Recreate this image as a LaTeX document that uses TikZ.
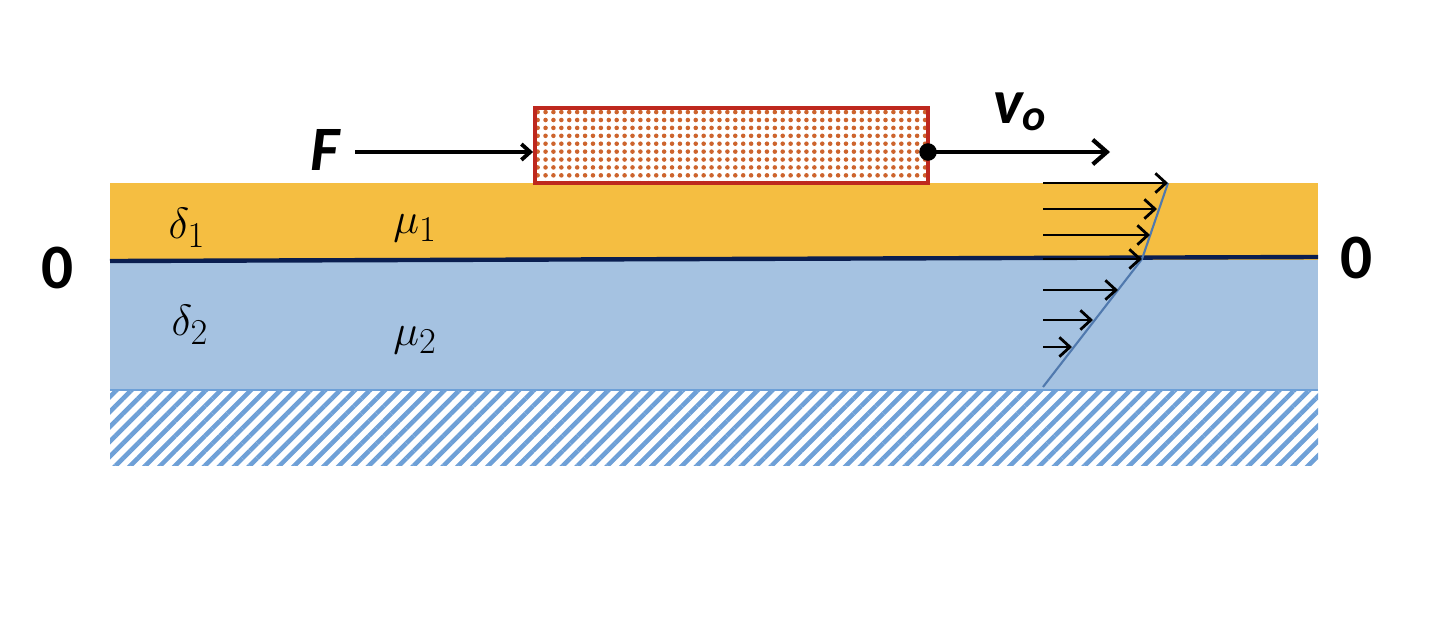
\documentclass[tikz,border=0pt]{standalone}
\usepackage{fontspec}
\setmainfont{Carlito}
\usetikzlibrary{patterns.meta,arrows.meta}
\definecolor{oil}{RGB}{245,190,65}
\definecolor{water}{RGB}{165,194,225}
\definecolor{wall}{RGB}{110,160,215}
\definecolor{navy}{RGB}{10,30,80}
\definecolor{brick}{RGB}{190,40,30}
\definecolor{sand}{RGB}{205,100,45}
\tikzset{force/.style={line width=2.4pt,-{Straight Barb[length=8pt,width=14pt]}}}
\tikzset{vel/.style={line width=1.6pt,-{Straight Barb[length=6pt,width=11pt]}}}
\tikzset{lbl/.style={font=\bfseries\fontsize{36}{36}\selectfont}}
\tikzset{sym/.style={font=\fontsize{32}{32}\selectfont}}

\begin{document}
\begin{tikzpicture}[x=0.02cm,y=-0.02cm]
\useasboundingbox (0,0) rectangle (1444,626);
% layers
\fill[oil] (110,183) rectangle (1318,260);
\fill[water] (110,260) rectangle (1318,390);
\fill[pattern={Lines[angle=45,distance=6pt,line width=2.6pt]},pattern color=wall] (110,390) rectangle (1318,465);
\draw[wall,line width=1.5pt] (110,390) -- (1318,390);
\draw[navy,line width=2.5pt] (110,261) -- (1318,257);
% block
\node[draw=brick,line width=2.2pt,minimum width=393*0.02cm,minimum height=75*0.02cm,inner sep=0pt,
  pattern={Dots[distance=4.5pt,radius=1.3pt]},pattern color=sand] (block) at (731.5,145.5) {};
\node[lbl] (force) at (325,150) {\itshape F};
\coordinate (fstart) at (355,152);
\draw[line width=2.2pt,-{Straight Barb[length=5pt,width=9pt]}] (fstart) -- (block.west |- fstart);
\fill (928,152) circle (5pt) coordinate (pin);
\coordinate (vend) at (1110,152);
\draw[force] (pin) -- (vend);
\node[lbl] (vo) at (1020,112) {\itshape v\textsubscript{o}};
% velocity profile
\coordinate (bottom) at (1043,387);
\coordinate (mid) at (1142,259);
\coordinate (top) at (1168,183);
\draw[wall!70!navy,line width=1.2pt] (bottom) -- (mid) -- (top);
\foreach \y/\x in {183/1168,209/1157,235/1150,259/1142,290/1118,320/1093,347/1072}
  \draw[vel] (1043,\y) -- (\x,\y);
% labels
\node[sym] (d1) at (187,228) {$\delta_1$};
\node[sym] (m1) at (415,228) {$\mu_1$};
\node[sym] (d2) at (190,325) {$\delta_2$};
\node[sym] (m2) at (415,340) {$\mu_2$};
\node[lbl] (zl) at (58,268) {0};
\node[lbl] (zr) at (1357,258) {0};
\end{tikzpicture}
\end{document}
